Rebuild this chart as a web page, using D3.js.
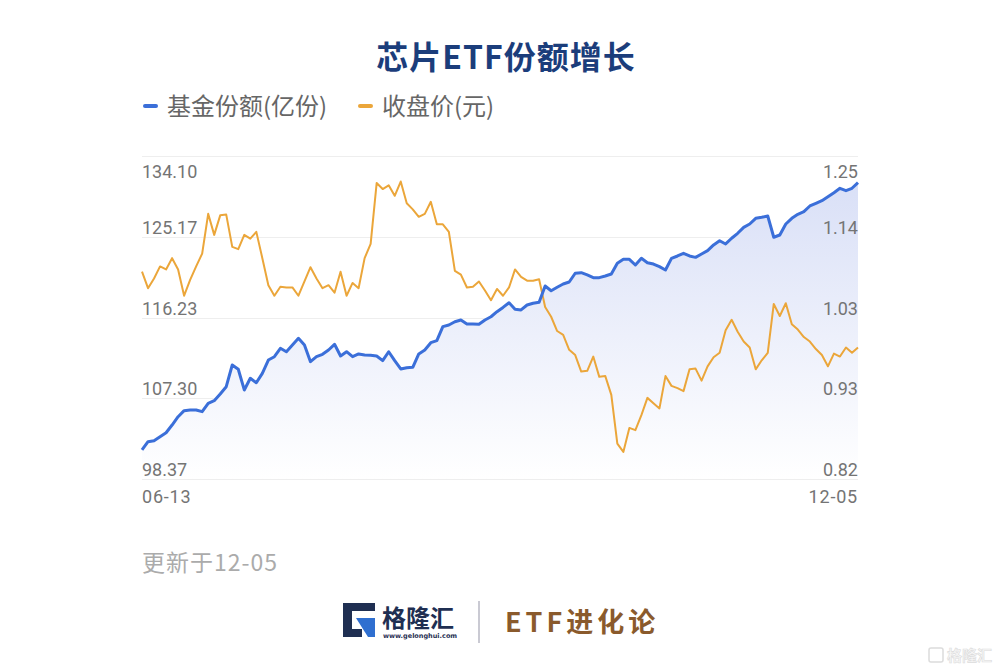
<!DOCTYPE html>
<html>
<head>
<meta charset="utf-8">
<script src="https://cdn.jsdelivr.net/npm/d3@7"></script>
<style>
  body { margin: 0; background: #ffffff; }
  svg { display: block; }
</style>
</head>
<body>
<svg id="chart" width="1000" height="670"></svg>
<script>
// 日期(首尾)
var dateLabels = ["06-13", "12-05"];

// 基金份额(亿份)
var shares = [
  101.58, 102.50, 102.61, 103.05, 103.49, 104.34, 105.26, 105.93, 106.00, 106.00,
  105.82, 106.74, 107.03, 107.77, 108.58, 110.98, 110.51, 108.22, 109.51, 109.02,
  110.06, 111.53, 111.90, 112.83, 112.45, 113.19, 113.93, 113.19, 111.35, 111.90,
  112.16, 112.64, 113.27, 111.98, 112.45, 111.90, 112.20, 112.09, 112.05, 111.98,
  111.46, 112.45, 111.46, 110.54, 110.68, 110.73, 112.20, 112.64, 113.45, 113.67,
  115.22, 115.41, 115.77, 115.96, 115.52, 115.52, 115.48, 115.96, 116.32, 116.88,
  117.35, 117.87, 117.14, 117.07, 117.62, 117.81, 117.92, 119.72, 119.20, 119.58,
  119.94, 120.16, 121.13, 121.19, 120.94, 120.64, 120.64, 120.83, 121.05, 122.23,
  122.67, 122.67, 122.04, 122.78, 122.30, 122.15, 121.86, 121.49, 122.78, 123.04,
  123.34, 123.04, 122.89, 123.26, 123.63, 124.26, 124.73, 124.37, 125.00, 125.55,
  126.21, 126.58, 127.21, 127.32, 127.46, 125.11, 125.36, 126.58, 127.21, 127.65,
  127.94, 128.57, 128.87, 129.16, 129.60, 130.04, 130.53, 130.26, 130.53, 131.15
];

// 收盘价(元)
var prices = [
  1.096, 1.074, 1.087, 1.103, 1.099, 1.114, 1.099, 1.064, 1.085, 1.103,
  1.120, 1.173, 1.145, 1.171, 1.172, 1.129, 1.126, 1.145, 1.140, 1.149,
  1.114, 1.078, 1.064, 1.076, 1.075, 1.075, 1.064, 1.083, 1.102, 1.087,
  1.074, 1.078, 1.068, 1.096, 1.064, 1.081, 1.074, 1.114, 1.133, 1.214,
  1.206, 1.211, 1.197, 1.216, 1.187, 1.179, 1.169, 1.173, 1.189, 1.159,
  1.159, 1.149, 1.097, 1.092, 1.075, 1.076, 1.083, 1.071, 1.058, 1.073,
  1.064, 1.075, 1.099, 1.089, 1.084, 1.084, 1.086, 1.049, 1.036, 1.017,
  1.012, 0.992, 0.985, 0.963, 0.964, 0.983, 0.956, 0.957, 0.932, 0.867,
  0.856, 0.888, 0.885, 0.905, 0.928, 0.921, 0.914, 0.957, 0.944, 0.941,
  0.937, 0.966, 0.967, 0.951, 0.970, 0.982, 0.988, 1.018, 1.032, 1.016,
  1.003, 0.995, 0.966, 0.978, 0.988, 1.053, 1.037, 1.054, 1.026, 1.019,
  1.009, 1.003, 0.993, 0.985, 0.970, 0.987, 0.983, 0.995, 0.988, 0.995
];

var leftLabels = ["98.37", "107.30", "116.23", "125.17", "134.10"];
var rightLabels = ["0.82", "0.93", "1.03", "1.14", "1.25"];

var plotLeft = 142, plotRight = 858, plotTop = 156, plotBottom = 479;
var cjk = "'Noto Sans CJK SC', 'Noto Sans', sans-serif";
var num = "Roboto, 'Noto Sans CJK SC', sans-serif";

var svg = d3.select("#chart");

var xScale = d3.scaleLinear().domain([0, shares.length - 1]).range([plotLeft, plotRight]);
var yLeft = d3.scaleLinear().domain([98.37, 134.10]).range([plotBottom, plotTop]);
var yRight = d3.scaleLinear().domain([0.82, 1.25]).range([plotBottom, plotTop]);

var leftTicks = d3.range(5).map(function(i){ return 98.37 + i * (134.10 - 98.37) / 4; });
var rightTicks = d3.range(5).map(function(i){ return 0.82 + i * (1.25 - 0.82) / 4; });

// 标题
svg.append("text")
    .attr("x", 506).attr("y", 69)
    .attr("text-anchor", "middle")
    .attr("font-family", cjk)
    .attr("font-size", 32)
    .attr("font-weight", "bold")
    .attr("letter-spacing", 1)
    .attr("fill", "#1b3d7b")
    .text("芯片ETF份额增长");

// 图例
var legend = [
  {name: "基金份额(亿份)", color: "#3b6fd9", x: 143},
  {name: "收盘价(元)", color: "#eba63a", x: 358}
];
legend.forEach(function(d){
    svg.append("line")
        .attr("x1", d.x + 2).attr("x2", d.x + 13)
        .attr("y1", 106).attr("y2", 106)
        .attr("stroke", d.color)
        .attr("stroke-width", 4)
        .attr("stroke-linecap", "round");
    svg.append("text")
        .attr("x", d.x + 24).attr("y", 115)
        .attr("font-family", cjk)
        .attr("font-size", 24)
        .attr("fill", "#666666")
        .text(d.name);
});

// 网格线
svg.append("g")
    .selectAll("line")
    .data(leftTicks)
    .enter()
    .append("line")
    .attr("x1", plotLeft).attr("x2", plotRight)
    .attr("y1", function(d){ return Math.round(yLeft(d)) + 0.5; })
    .attr("y2", function(d){ return Math.round(yLeft(d)) + 0.5; })
    .attr("stroke", "#eeeeee")
    .attr("stroke-width", 1);

// 面积渐变
var defs = svg.append("defs");
var grad = defs.append("linearGradient")
    .attr("id", "areaFill")
    .attr("gradientUnits", "userSpaceOnUse")
    .attr("x1", 0).attr("x2", 0)
    .attr("y1", plotTop).attr("y2", plotBottom);
grad.append("stop").attr("offset", "0%").attr("stop-color", "#d6ddf6");
grad.append("stop").attr("offset", "100%").attr("stop-color", "#ffffff");

var area = d3.area()
    .x(function(d, i){ return xScale(i); })
    .y0(plotBottom)
    .y1(function(d){ return yLeft(d); });

svg.append("path")
    .datum(shares)
    .attr("d", area)
    .attr("fill", "url(#areaFill)");

var shareLine = d3.line()
    .x(function(d, i){ return xScale(i); })
    .y(function(d){ return yLeft(d); });

var priceLine = d3.line()
    .x(function(d, i){ return xScale(i); })
    .y(function(d){ return yRight(d); });

svg.append("path")
    .datum(prices)
    .attr("d", priceLine)
    .attr("fill", "none")
    .attr("stroke", "#eba63a")
    .attr("stroke-width", 2)
    .attr("stroke-linejoin", "round");

svg.append("path")
    .datum(shares)
    .attr("d", shareLine)
    .attr("fill", "none")
    .attr("stroke", "#3b6fd9")
    .attr("stroke-width", 3)
    .attr("stroke-linejoin", "round");

// 坐标轴文字
function tickY(y, i){
    // 顶部标签放在网格线下方
    return i === 4 ? y + 22 : y - 3;
}

svg.append("g")
    .selectAll("text")
    .data(leftTicks)
    .enter()
    .append("text")
    .attr("x", plotLeft)
    .attr("y", function(d, i){ return tickY(yLeft(d), i); })
    .attr("font-family", num)
    .attr("font-size", 18)
    .attr("fill", "#747474")
    .text(function(d, i){ return leftLabels[i]; });

svg.append("g")
    .selectAll("text")
    .data(rightTicks)
    .enter()
    .append("text")
    .attr("x", plotRight)
    .attr("y", function(d, i){ return tickY(yRight(d), i); })
    .attr("text-anchor", "end")
    .attr("font-family", num)
    .attr("font-size", 18)
    .attr("fill", "#747474")
    .text(function(d, i){ return rightLabels[i]; });

svg.append("g")
    .selectAll("text")
    .data(dateLabels)
    .enter()
    .append("text")
    .attr("x", function(d, i){ return i === 0 ? xScale(0) : xScale(shares.length - 1); })
    .attr("y", 503)
    .attr("text-anchor", function(d, i){ return i === 0 ? "start" : "end"; })
    .attr("font-family", num)
    .attr("font-size", 18)
    .attr("letter-spacing", 0.8)
    .attr("fill", "#747474")
    .text(function(d){ return d; });

// 更新时间
svg.append("text")
    .attr("x", 142).attr("y", 571)
    .attr("font-family", cjk)
    .attr("font-size", 23)
    .attr("letter-spacing", 1)
    .attr("fill", "#ababab")
    .text("更新于" + dateLabels[1]);

// 底部标识
var logo = svg.append("g");
logo.append("path")
    .attr("d", "M343,603 H375 V611 H352 V629 H362 V637 H343 Z")
    .attr("fill", "#1f2f52");
logo.append("path")
    .attr("d", "M356,618 H375 V637 H368 Z")
    .attr("fill", "#2f6fd0");
logo.append("text")
    .attr("x", 382).attr("y", 627)
    .attr("font-family", cjk)
    .attr("font-size", 24)
    .attr("font-weight", "bold")
    .attr("fill", "#1f2f52")
    .text("格隆汇");
logo.append("text")
    .attr("x", 383).attr("y", 638)
    .attr("font-family", "'DejaVu Sans', sans-serif")
    .attr("font-size", 6.5)
    .attr("font-weight", "bold")
    .attr("fill", "#1f2f52")
    .text("www.gelonghui.com");

svg.append("line")
    .attr("x1", 479).attr("x2", 479)
    .attr("y1", 601).attr("y2", 643)
    .attr("stroke", "#b9b9c4")
    .attr("stroke-width", 1.5);

svg.append("text")
    .attr("x", 505).attr("y", 632)
    .attr("font-family", cjk)
    .attr("font-size", 27)
    .attr("font-weight", "bold")
    .attr("letter-spacing", 4)
    .attr("fill", "#8a5a2c")
    .text("ETF进化论");

// 水印
svg.append("rect")
    .attr("x", 929).attr("y", 648)
    .attr("width", 14).attr("height", 14)
    .attr("rx", 2)
    .attr("fill", "none")
    .attr("stroke", "#dcdcdc")
    .attr("stroke-width", 1.5);
svg.append("text")
    .attr("x", 992).attr("y", 661)
    .attr("text-anchor", "end")
    .attr("font-family", cjk)
    .attr("font-size", 15)
    .attr("font-weight", "bold")
    .attr("fill", "#f7f7f7")
    .attr("stroke", "#dcdcdc")
    .attr("stroke-width", 0.6)
    .text("格隆汇");
</script>
</body>
</html>
